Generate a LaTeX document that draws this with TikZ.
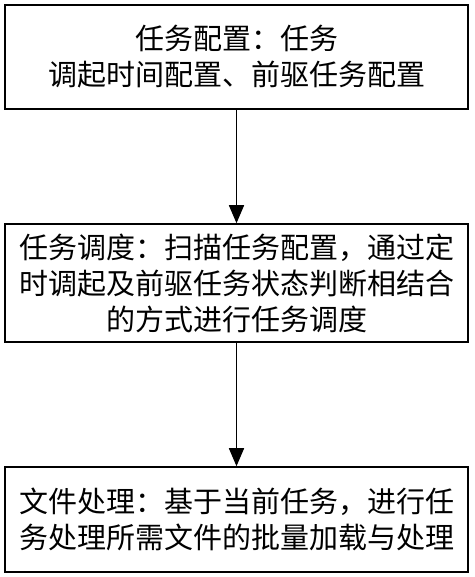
\documentclass[tikz,border=0pt]{standalone}
\usepackage{fontspec}
\setmainfont{Noto Sans CJK SC}
\usetikzlibrary{arrows.meta}

\tikzset{
  box/.style={draw, line width=1.5pt, minimum width=463pt, text width=440pt,
    align=center, inner sep=0pt, font=\fontsize{29pt}{36pt}\selectfont},
  flow/.style={line width=1.5pt, -{Triangle[length=18pt,width=15pt]}}
}

\begin{document}
\begin{tikzpicture}[x=1pt,y=1pt]
\useasboundingbox (0,0) rectangle (474,577);
\node[box, minimum height=104pt] (config) at (236.5,520) {任务配置：任务\\调起时间配置、前驱任务配置};
\node[box, minimum height=118pt] (sched) at (236.5,294) {任务调度：扫描任务配置，通过定\\时调起及前驱任务状态判断相结合\\的方式进行任务调度};
\node[box, minimum height=105pt] (file) at (236.5,57.5) {文件处理：基于当前任务，进行任\\务处理所需文件的批量加载与处理};
\draw[flow] (config) -- (sched);
\draw[flow] (sched) -- (file);
\end{tikzpicture}
\end{document}
